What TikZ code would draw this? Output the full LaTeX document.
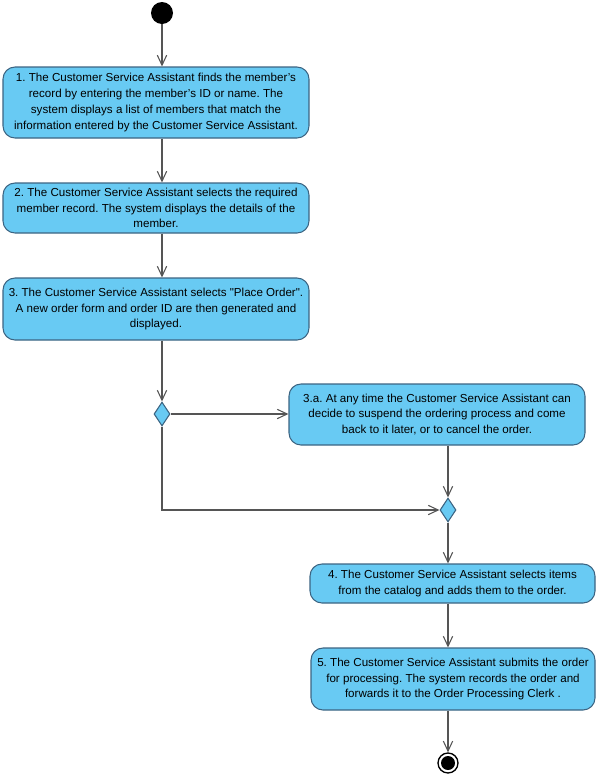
\documentclass[tikz,border=0pt]{standalone}
\usepackage{fontspec}
\setmainfont{Liberation Sans}
\usetikzlibrary{shapes.geometric,arrows.meta}

\definecolor{actfill}{RGB}{104,202,243}
\definecolor{actline}{RGB}{60,100,130}
\definecolor{flowgray}{RGB}{85,85,85}

\tikzset{
 action/.style={draw=actline,fill=actfill,line width=0.8pt,rounded corners=9pt,
  align=center,inner sep=0pt,font=\fontsize{8.7}{11.8}\selectfont\frenchspacing},
 decision/.style={diamond,draw=actline,fill=actfill,line width=0.8pt,inner sep=0pt,
  minimum width=12pt,minimum height=18pt},
 flow/.style={draw=flowgray,line width=0.8pt,-{Straight Barb[length=7.5pt,width=7pt]}}
}

\def\px{0.75pt}

\begin{document}
\begin{tikzpicture}[x=\px,y=-\px]
 \useasboundingbox (0,0) rectangle (600,779);
 % start and end
 \node[circle,fill=black,minimum size=22*\px,inner sep=0pt] (start) at (162,13) {};
 \node[circle,draw=black,line width=1pt,fill=white,minimum size=20*\px,inner sep=0pt] (final) at (448,763) {};
 \fill[black] (final.center) circle (7*\px);
 % Actions
 \node[action,minimum width=306*\px,minimum height=71*\px] (find) at (156,102.5)
  {1. The Customer Service Assistant finds the member's\\
   record by entering the member's ID or name. The\\
   system displays a list of members that match the\\
   information entered by the Customer Service Assistant.};
 \node[action,minimum width=306*\px,minimum height=50*\px] (select) at (156,208)
  {2. The Customer Service Assistant selects the required\\
   member record. The system displays the details of the\\
   member.};
 \node[action,minimum width=306*\px,minimum height=62*\px] (place) at (156,309)
  {3. The Customer Service Assistant selects \textquotedbl Place Order\textquotedbl.\\
   A new order form and order ID are then generated and\\
   displayed.};
 \node[action,minimum width=296*\px,minimum height=61*\px] (suspend) at (437,414.5)
  {3.a. At any time the Customer Service Assistant can\\
   decide to suspend the ordering process and come\\
   back to it later, or to cancel the order.};
 \node[action,minimum width=285*\px,minimum height=39*\px] (items) at (452.5,583.5)
  {4. The Customer Service Assistant selects items\\
   from the catalog and adds them to the order.};
 \node[action,minimum width=284*\px,minimum height=62*\px] (submit) at (453,679)
  {5. The Customer Service Assistant submits the order\\
   for processing. The system records the order and\\
   forwards it to the Order Processing Clerk .};
 % Decision and merge
 \node[decision] (branch) at (162,414) {};
 \node[decision] (merge) at (448,510) {};
 % Flows
 \draw[flow] (start) -- (start |- find.north);
 \draw[flow] (start |- find.south) -- (start |- select.north);
 \draw[flow] (start |- select.south) -- (start |- place.north);
 \draw[flow] (branch |- place.south) -- (branch.north);
 \draw[flow] (branch.east) -- (branch.east -| suspend.west);
 \draw[flow] (merge |- suspend.south) -- (merge.north);
 \draw[flow] (branch.south) |- (merge.west);
 \draw[flow] (merge.south) -- (merge |- items.north);
 \draw[flow] (merge |- items.south) -- (merge |- submit.north);
 \draw[flow] (final |- submit.south) -- (final.north);
\end{tikzpicture}
\end{document}
